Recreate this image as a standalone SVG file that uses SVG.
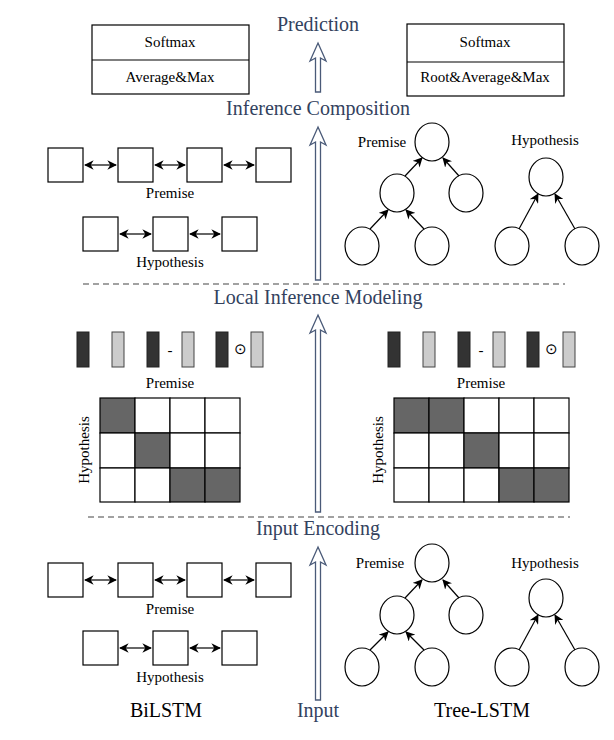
<svg xmlns="http://www.w3.org/2000/svg" width="614" height="740" viewBox="0 0 614 740">
<style>
.t{font-family:"Liberation Serif",serif;font-size:15px;fill:#000;text-anchor:middle}
.h{font-family:"Liberation Serif",serif;font-size:20px;fill:#33425e;text-anchor:middle}
.k{font-family:"Liberation Serif",serif;font-size:20px;fill:#000;text-anchor:middle}
.b{fill:#fff;stroke:#000;stroke-width:1.2}
.c{fill:#fff;stroke:#000;stroke-width:1.2}
.e{stroke:#000;stroke-width:1.2;fill:none}
.dash{stroke:#444;stroke-width:1.2;stroke-dasharray:6 4}
.big{fill:#fff;stroke:#4a5a78;stroke-width:1.3}
.dk{fill:#333;stroke:#222}
.lt{fill:#ccc;stroke:#444}
.g{fill:#fff;stroke:#000;stroke-width:1.2}
.gs{fill:#666;stroke:#000;stroke-width:1.2}
</style>
<defs>
<marker id="a" viewBox="0 0 10 10" refX="9" refY="5" markerWidth="8" markerHeight="8" orient="auto-start-reverse"><path d="M0,0 L10,5 L0,10 L3,5 z" fill="#000"/></marker>
</defs>

<g id="titles">
<text class="h" x="318" y="31">Prediction</text>
<text class="h" x="318" y="115">Inference Composition</text>
<text class="h" x="318" y="304">Local Inference Modeling</text>
<text class="h" x="318" y="535">Input Encoding</text>
<text class="h" x="318" y="717">Input</text>
<text class="k" x="166" y="717">BiLSTM</text>
<text class="k" x="482" y="717">Tree-LSTM</text>
</g>

<g id="bigarrows">
<polygon class="big" points="318,43 326,61 320.5,58 320.5,92 315.5,92 315.5,58 310,61"/>
<polygon class="big" points="318,127 326,145 320.5,142 320.5,280 315.5,280 315.5,142 310,145"/>
<polygon class="big" points="318,315 326,333 320.5,330 320.5,512 315.5,512 315.5,330 310,333"/>
<polygon class="big" points="318,547 326,565 320.5,562 320.5,700 315.5,700 315.5,562 310,565"/>
</g>

<g id="dividers">
<line class="dash" x1="83" y1="284" x2="565" y2="284"/>
<line class="dash" x1="88" y1="517" x2="570" y2="517"/>
</g>

<g id="outbox-left">
<rect class="b" x="92" y="25" width="157" height="69"/>
<line class="e" x1="92" y1="60" x2="249" y2="60"/>
<text class="t" x="170" y="47">Softmax</text>
<text class="t" x="170" y="82">Average&amp;Max</text>
</g>
<g id="outbox-right">
<rect class="b" x="407" y="24" width="157" height="72"/>
<line class="e" x1="407" y1="62" x2="564" y2="62"/>
<text class="t" x="485" y="47">Softmax</text>
<text class="t" x="485" y="82">Root&amp;Average&amp;Max</text>
</g>

<g id="bilstm-top">
<rect class="b" x="48" y="148" width="35" height="34"/>
<rect class="b" x="118" y="148" width="35" height="34"/>
<rect class="b" x="187" y="148" width="35" height="34"/>
<rect class="b" x="256" y="148" width="35" height="34"/>
<text class="t" x="170" y="198">Premise</text>
<rect class="b" x="83" y="217" width="35" height="34"/>
<rect class="b" x="153" y="217" width="35" height="34"/>
<rect class="b" x="222" y="217" width="35" height="34"/>
<text class="t" x="170" y="267">Hypothesis</text>
</g>

<g id="tree-top">
<text class="t" x="382" y="147">Premise</text>
<ellipse class="c" cx="432" cy="142" rx="17" ry="19"/>
<ellipse class="c" cx="397" cy="193" rx="17" ry="19"/>
<ellipse class="c" cx="466" cy="193" rx="17" ry="19"/>
<ellipse class="c" cx="362" cy="246" rx="17" ry="19"/>
<ellipse class="c" cx="432" cy="246" rx="17" ry="19"/>
<text class="t" x="545" y="145">Hypothesis</text>
<ellipse class="c" cx="546" cy="177" rx="17" ry="19"/>
<ellipse class="c" cx="512" cy="246" rx="17" ry="19"/>
<ellipse class="c" cx="582" cy="246" rx="17" ry="19"/>
</g>

<g id="lim-left">
<rect class="dk" x="77" y="332" width="12" height="35"/>
<rect class="lt" x="112" y="332" width="12" height="35"/>
<rect class="dk" x="147" y="332" width="12" height="35"/>
<text class="t" x="170" y="355">-</text>
<rect class="lt" x="182" y="332" width="12" height="35"/>
<rect class="dk" x="216" y="332" width="12" height="35"/>
<text class="t" x="240" y="354">⊙</text>
<rect class="lt" x="251" y="332" width="12" height="35"/>
<text class="t" x="170" y="388">Premise</text>
<text class="t" transform="translate(89,450) rotate(-90)">Hypothesis</text>
<rect class="gs" x="100" y="398" width="35" height="35"/>
<rect class="g" x="135" y="398" width="35" height="35"/>
<rect class="g" x="170" y="398" width="35" height="35"/>
<rect class="g" x="205" y="398" width="35" height="35"/>
<rect class="g" x="100" y="433" width="35" height="35"/>
<rect class="gs" x="135" y="433" width="35" height="35"/>
<rect class="g" x="170" y="433" width="35" height="35"/>
<rect class="g" x="205" y="433" width="35" height="35"/>
<rect class="g" x="100" y="468" width="35" height="34"/>
<rect class="g" x="135" y="468" width="35" height="34"/>
<rect class="gs" x="170" y="468" width="35" height="34"/>
<rect class="gs" x="205" y="468" width="35" height="34"/>
</g>

<g id="lim-right">
<rect class="dk" x="388" y="332" width="12" height="35"/>
<rect class="lt" x="423" y="332" width="12" height="35"/>
<rect class="dk" x="458" y="332" width="12" height="35"/>
<text class="t" x="481" y="355">-</text>
<rect class="lt" x="493" y="332" width="12" height="35"/>
<rect class="dk" x="527" y="332" width="12" height="35"/>
<text class="t" x="551" y="354">⊙</text>
<rect class="lt" x="563" y="332" width="12" height="35"/>
<text class="t" x="481" y="388">Premise</text>
<text class="t" transform="translate(383,450) rotate(-90)">Hypothesis</text>
<rect class="gs" x="394" y="398" width="35" height="35"/>
<rect class="gs" x="429" y="398" width="35" height="35"/>
<rect class="g" x="464" y="398" width="35" height="35"/>
<rect class="g" x="499" y="398" width="35" height="35"/>
<rect class="g" x="534" y="398" width="35" height="35"/>
<rect class="g" x="394" y="433" width="35" height="35"/>
<rect class="g" x="429" y="433" width="35" height="35"/>
<rect class="gs" x="464" y="433" width="35" height="35"/>
<rect class="g" x="499" y="433" width="35" height="35"/>
<rect class="g" x="534" y="433" width="35" height="35"/>
<rect class="g" x="394" y="468" width="35" height="34"/>
<rect class="g" x="429" y="468" width="35" height="34"/>
<rect class="g" x="464" y="468" width="35" height="34"/>
<rect class="gs" x="499" y="468" width="35" height="34"/>
<rect class="gs" x="534" y="468" width="35" height="34"/>
</g>

<g id="bilstm-bottom">
<rect class="b" x="48" y="563" width="35" height="34"/>
<rect class="b" x="118" y="563" width="35" height="34"/>
<rect class="b" x="187" y="563" width="35" height="34"/>
<rect class="b" x="256" y="563" width="35" height="34"/>
<text class="t" x="170" y="614">Premise</text>
<rect class="b" x="83" y="631" width="35" height="34"/>
<rect class="b" x="153" y="631" width="35" height="34"/>
<rect class="b" x="222" y="631" width="35" height="34"/>
<text class="t" x="170" y="682">Hypothesis</text>
</g>

<g id="tree-bottom">
<text class="t" x="380" y="568">Premise</text>
<ellipse class="c" cx="432" cy="563" rx="17" ry="19"/>
<ellipse class="c" cx="397" cy="615" rx="17" ry="19"/>
<ellipse class="c" cx="466" cy="615" rx="17" ry="19"/>
<ellipse class="c" cx="362" cy="667" rx="17" ry="19"/>
<ellipse class="c" cx="432" cy="667" rx="17" ry="19"/>
<text class="t" x="545" y="568">Hypothesis</text>
<ellipse class="c" cx="546" cy="598" rx="17" ry="19"/>
<ellipse class="c" cx="512" cy="667" rx="17" ry="19"/>
<ellipse class="c" cx="582" cy="667" rx="17" ry="19"/>
</g>

<g id="connectors">
<line class="e" x1="85" y1="165" x2="116" y2="165" marker-start="url(#a)" marker-end="url(#a)"/>
<line class="e" x1="155" y1="165" x2="185" y2="165" marker-start="url(#a)" marker-end="url(#a)"/>
<line class="e" x1="224" y1="165" x2="254" y2="165" marker-start="url(#a)" marker-end="url(#a)"/>
<line class="e" x1="120" y1="234" x2="151" y2="234" marker-start="url(#a)" marker-end="url(#a)"/>
<line class="e" x1="190" y1="234" x2="220" y2="234" marker-start="url(#a)" marker-end="url(#a)"/>
<line class="e" x1="405" y1="176" x2="422" y2="158" marker-end="url(#a)"/>
<line class="e" x1="459" y1="176" x2="443" y2="158" marker-end="url(#a)"/>
<line class="e" x1="370" y1="229" x2="388" y2="210" marker-end="url(#a)"/>
<line class="e" x1="424" y1="229" x2="406" y2="210" marker-end="url(#a)"/>
<line class="e" x1="519" y1="229" x2="538" y2="194" marker-end="url(#a)"/>
<line class="e" x1="575" y1="229" x2="555" y2="194" marker-end="url(#a)"/>
<line class="e" x1="85" y1="580" x2="116" y2="580" marker-start="url(#a)" marker-end="url(#a)"/>
<line class="e" x1="155" y1="580" x2="185" y2="580" marker-start="url(#a)" marker-end="url(#a)"/>
<line class="e" x1="224" y1="580" x2="254" y2="580" marker-start="url(#a)" marker-end="url(#a)"/>
<line class="e" x1="120" y1="648" x2="151" y2="648" marker-start="url(#a)" marker-end="url(#a)"/>
<line class="e" x1="190" y1="648" x2="220" y2="648" marker-start="url(#a)" marker-end="url(#a)"/>
<line class="e" x1="405" y1="598" x2="422" y2="580" marker-end="url(#a)"/>
<line class="e" x1="459" y1="598" x2="443" y2="580" marker-end="url(#a)"/>
<line class="e" x1="370" y1="650" x2="388" y2="632" marker-end="url(#a)"/>
<line class="e" x1="424" y1="650" x2="406" y2="632" marker-end="url(#a)"/>
<line class="e" x1="519" y1="650" x2="538" y2="615" marker-end="url(#a)"/>
<line class="e" x1="575" y1="650" x2="555" y2="615" marker-end="url(#a)"/>
</g>
</svg>
